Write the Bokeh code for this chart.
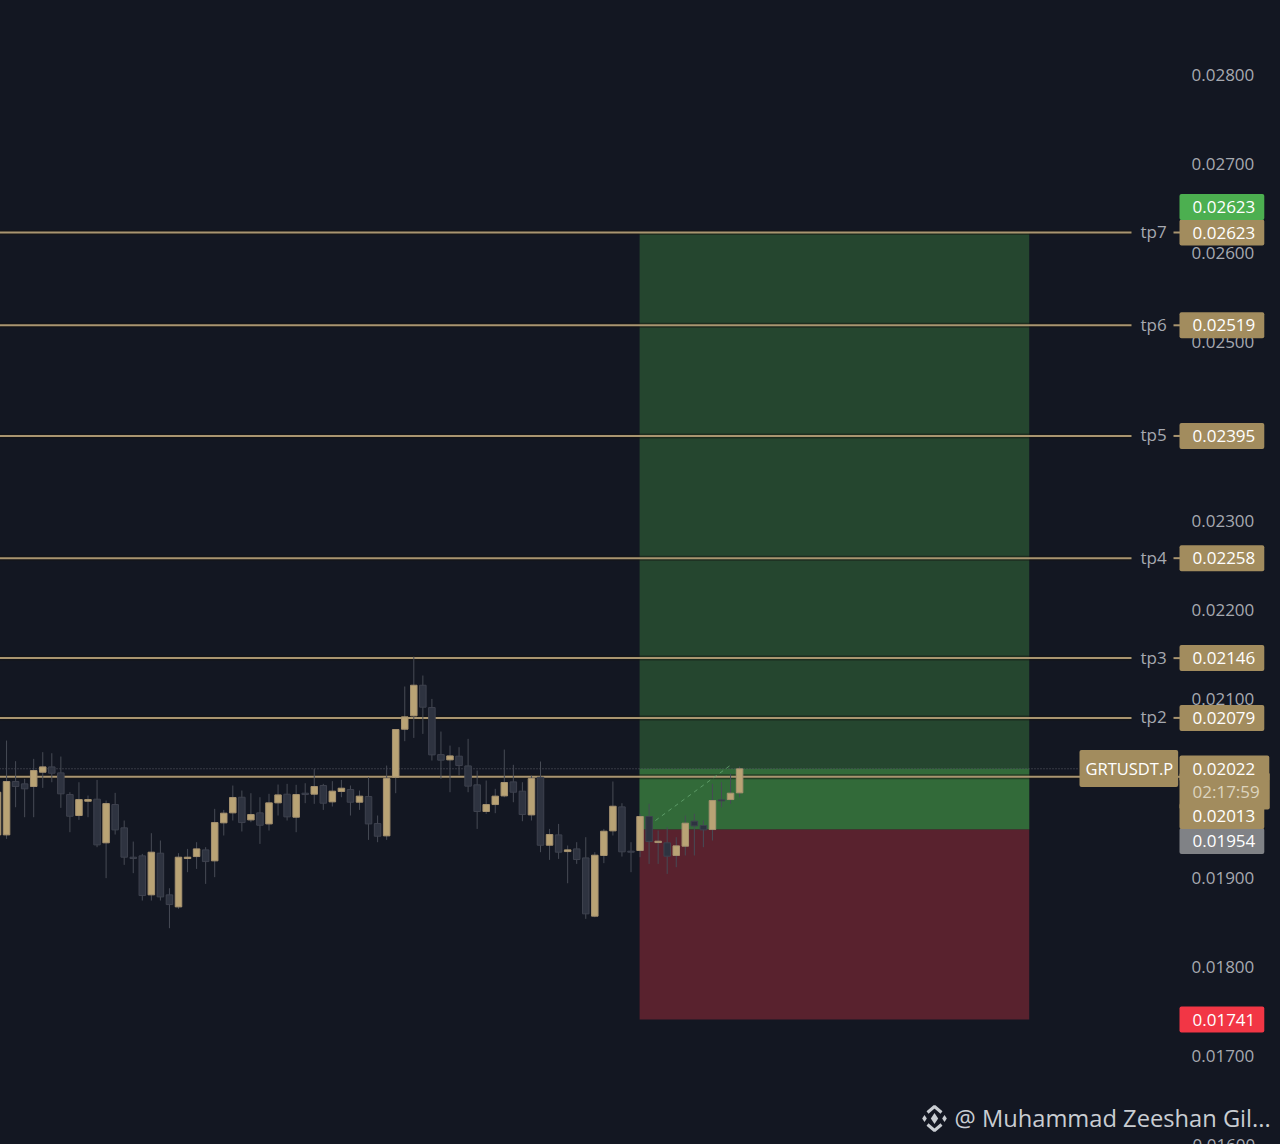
from bokeh.plotting import figure
from bokeh.models import Label, FixedTicker, LinearAxis, Range1d, NumeralTickFormatter
from bokeh.core.properties import value
from bokeh.embed import file_html
from bokeh.resources import INLINE

opens = [.019479,.019479,.020077,.020051,.020021,.020181,.020241,.020174,.019931,.019696,.019856,.019879,.019390,.019819,.019558,.019229,.019244,.018807,.019274,.018807,.018672,.019214,.019236,.019311,.019188,.019614,.019726,.019901,.019647,.019726,.019602,.019838,.019935,.019677,.019946,.019935,.020032,.019849,.019965,.019987,.019845,.019909,.019606,.019468,.020125,.020663,.020813,.021156,.020906,.020379,.020320,.020361,.020252,.020040,.019741,.019819,.019916,.020073,.019969,.019703,.020125,.019363,.019479,.019292,.019322,.019221,.018568,.019248,.019524,.019793,.019296,.019304,.019685,.019393,.019390,.019248,.019352,.019632,.019584,.019539,.019871,.019875,.019950]
closes = [.019957,.020077,.020021,.019995,.020200,.020241,.020170,.019939,.019688,.019875,.019875,.019367,.019830,.019535,.019229,.019214,.018799,.019285,.018784,.018698,.019229,.019229,.019322,.019180,.019617,.019722,.019898,.019617,.019707,.019587,.019838,.019927,.019681,.019931,.019931,.020021,.019834,.019969,.020002,.019845,.019913,.019602,.019464,.020110,.020660,.020802,.021156,.020910,.020376,.020316,.020364,.020256,.020025,.019741,.019819,.019913,.020066,.019957,.019707,.020110,.019363,.019483,.019285,.019311,.019203,.018594,.019251,.019520,.019800,.019289,.019285,.019685,.019404,.019408,.019240,.019356,.019610,.019580,.019535,.019864,.019860,.019946,.020219]
highs = [.020051,.020536,.020305,.020107,.020331,.020406,.020394,.020357,.019957,.020069,.019920,.020095,.019864,.019950,.019640,.019404,.019266,.019498,.019416,.018881,.019274,.019322,.019397,.019341,.019771,.019759,.020032,.019976,.019946,.019901,.019939,.020043,.020051,.020040,.020058,.020219,.020051,.020081,.020095,.020032,.019976,.020125,.019696,.020256,.020660,.021142,.021478,.021265,.021003,.020637,.020480,.020462,.020555,.020200,.020088,.019995,.020435,.020264,.020069,.020144,.020301,.019546,.019602,.019360,.019397,.019453,.019285,.019546,.020077,.019834,.019397,.019715,.019827,.019528,.019565,.019453,.019696,.019715,.019640,.020051,.020069,.020163,.020245]
lows = [.019434,.019434,.019789,.019677,.019677,.020006,.020069,.019782,.019509,.019647,.019677,.019341,.018994,.019483,.019143,.019050,.018743,.018743,.018743,.018433,.018650,.019061,.019098,.018930,.019005,.019472,.019640,.019517,.019621,.019378,.019528,.019696,.019640,.019509,.019834,.019827,.019759,.019797,.019901,.019696,.019759,.019423,.019397,.019423,.019946,.020529,.020566,.020611,.020312,.020107,.019957,.020144,.019957,.019546,.019715,.019722,.019901,.019845,.019632,.019640,.019285,.019199,.019210,.018937,.019154,.018538,.018556,.019162,.019472,.019236,.019061,.019229,.019154,.019154,.019042,.019117,.019248,.019248,.019341,.019416,.019789,.019827,.019901]

tick_prices = [0.017, 0.018, 0.019, 0.020, 0.021, 0.022, 0.023, 0.024, 0.025, 0.026, 0.027, 0.028]
tp_names = ["tp1", "tp2", "tp3", "tp4", "tp5", "tp6", "tp7"]
tp_prices = [0.02013, 0.02079, 0.02146, 0.02258, 0.02395, 0.02519, 0.02623]
entry_price = 0.01954
stop_price = 0.01741
last_price = 0.02022
tool_start, tool_end = 70.95, 114
symbol = "GRTUSDT.P"
countdown = "02:17:59"
watermark = "@ Muhammad Zeeshan Gil..."
arrow_bars = [72.7, 81.0]
arrow_prices = [0.01964, 0.02026]

BG = "#131722"; GOLD = "#B9A375"; LINE = "#A99570"; TAG = "#A28C5E"; AXIS = "#A6A9B0"
FONT = value("Open Sans")
STEP = 9.05
PX_PER_UNIT = 89229.0
SHIFT = 1  # the canvas starts one pixel outside the window so that its edge is not seen

def bar_of(px):
    return (px + 3) / STEP
def price_of(py):
    return 0.02623 - (py - 232) / PX_PER_UNIT

p = figure(width=1280 + 2 * SHIFT, height=1144 + 2 * SHIFT, output_backend="svg", toolbar_location=None,
           x_range=Range1d(bar_of(-SHIFT), bar_of(1280 + SHIFT)), y_range=Range1d(price_of(1144 + SHIFT), price_of(-SHIFT)),
           background_fill_color=BG, border_fill_color=BG, outline_line_color=None,
           min_border_left=0, min_border_top=0, min_border_bottom=0, min_border_right=0,
           x_axis_location=None, y_axis_location=None)
p.styles = {"position": "absolute", "left": f"-{SHIFT}px", "top": f"-{SHIFT}px"}
p.grid.visible = False

ax = LinearAxis(ticker=FixedTicker(ticks=tick_prices), formatter=NumeralTickFormatter(format="0.00000"),
                fixed_location=bar_of(1179), major_tick_in=0, major_tick_out=0,
                major_tick_line_color=None, minor_tick_line_color=None, axis_line_color=None,
                major_label_standoff=12, major_label_text_color=AXIS, major_label_text_font="Open Sans",
                major_label_text_font_size="17px")
p.add_layout(ax, "right")

# position tool
p.quad(left=[tool_start], right=[tool_end], bottom=[entry_price], top=[tp_prices[-1]], fill_color="#25462F", line_color=None)
p.quad(left=[tool_start], right=[tool_end], bottom=[entry_price], top=[last_price], fill_color="#326A39", line_color=None)
p.quad(left=[tool_start], right=[tool_end], bottom=[stop_price], top=[entry_price], fill_color="#59222E", line_color=None)

# last price dotted
p.segment(x0=[bar_of(-SHIFT)], x1=[bar_of(1079)], y0=[last_price], y1=[last_price], line_color="#5A5F69", line_width=1, line_dash="1 2")

# tp lines
n = len(tp_prices)
p.segment(x0=[bar_of(-SHIFT)] * n, x1=[bar_of(1131)] * n, y0=tp_prices, y1=tp_prices, line_color="#15140F", line_width=5, line_alpha=0.5)
p.segment(x0=[bar_of(-SHIFT)] * n, x1=[bar_of(1131)] * n, y0=tp_prices, y1=tp_prices, line_color=LINE, line_width=2)
p.segment(x0=[bar_of(1173)] * n, x1=[bar_of(1180)] * n, y0=tp_prices, y1=tp_prices, line_color=LINE, line_width=2)
p.text(x=[bar_of(1140)] * n, y=tp_prices, text=tp_names, text_color=AXIS, text_font=FONT, text_font_size="17px",
       text_baseline="middle", text_align="left", y_offset=-1)

# candles
xs = list(range(len(opens)))
up = [c >= o for o, c in zip(opens, closes)]
up_x = [x for x, u in zip(xs, up) if u]
dn_x = [x for x, u in zip(xs, up) if not u]
p.segment(x0=xs, x1=xs, y0=lows, y1=highs, line_color="#474B55", line_width=1)
p.vbar(x=dn_x, width=0.72, top=[o for o, u in zip(opens, up) if not u], bottom=[c for c, u in zip(closes, up) if not u],
       fill_color="#2E3340", line_color="#3E424E", line_width=1)
p.vbar(x=up_x, width=0.72, top=[c for c, u in zip(closes, up) if u], bottom=[o for o, u in zip(opens, up) if u],
       fill_color=GOLD, line_color="#A69270", line_width=1)

# dashed arrow
p.line(x=arrow_bars, y=arrow_prices, line_color="#66A672", line_width=1, line_dash="4 4", line_alpha=0.8)

def tag(text, py, bg, color="#FFFFFF", x=1179, pad=(13, 9, 7, 7), size="17px"):
    # padding order: left, right, top, bottom
    p.add_layout(Label(x=x + SHIFT, x_units="screen", y=price_of(py), y_units="data", text=text, text_color=color,
                       text_font="Open Sans", text_font_size=size, text_baseline="middle",
                       text_align="left", background_fill_color=bg, padding=pad, border_radius=2))

# cut-off tick at the bottom
p.add_layout(Label(x=1192 + SHIFT, x_units="screen", y=0.016, y_units="data", text="0.01600", text_color=AXIS,
                   text_font="Open Sans", text_font_size="17px", text_baseline="middle", text_align="left"))

for name, price in zip(tp_names[1:], tp_prices[1:]):
    tag(f"{price:.5f}", 232 + (0.02623 - price) * PX_PER_UNIT, TAG)
tag("0.02623", 206.5, "#4CAF50")
tag(f"{stop_price:.5f}", 1019, "#F23645")
tag("0.01954", 840.5, "#808286")
tag("0.02013", 815.5, TAG)
tag(countdown, 790.5, TAG, color="#DDD4BE", pad=(13, 10, 7, 7))
tag(f"{last_price:.5f}", 768, TAG, pad=(13, 14, 7, 7))
tag(symbol, 768, TAG, x=1079, pad=(6, 5, 7, 7), size="16.5px")

# watermark
p.scatter(x=[bar_of(934)], y=[price_of(1118)], marker="diamond", size=11, fill_color="#C9CDD2", line_color=None)
p.scatter(x=[bar_of(924), bar_of(944)], y=[price_of(1118)] * 2, marker="diamond", size=7, fill_color="#C9CDD2", line_color=None)
p.multi_line(xs=[[bar_of(927), bar_of(934), bar_of(941)], [bar_of(927), bar_of(934), bar_of(941)]],
             ys=[[price_of(1112), price_of(1106), price_of(1112)], [price_of(1124), price_of(1130), price_of(1124)]],
             line_color="#C9CDD2", line_width=3)
p.add_layout(Label(x=954 + SHIFT, x_units="screen", y=price_of(1117), y_units="data", text=watermark, text_color="#C9CDD2",
                   text_font="Open Sans", text_font_size="23.7px", text_baseline="middle", text_align="left"))

open("out.html", "w").write(file_html(p, INLINE))
